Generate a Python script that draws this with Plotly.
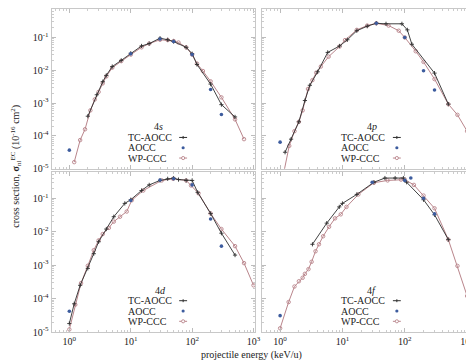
import plotly.graph_objects as go

# ---------------- data (energies in keV/u, cross sections in 1e-16 cm^2) ----------------
# 4s
wp_4s_E = [1.2, 1.5, 1.8, 2.2, 2.6, 3, 3.5, 4, 5, 7, 10, 15, 20, 30, 40, 50, 60, 80, 100, 120, 150, 200, 300, 500, 700]
wp_4s = [1.6e-5, 7.5e-5, 1.6e-4, 6e-4, 1.3e-3, 2.2e-3, 4e-3, 6.5e-3, 1.2e-2, 1.9e-2, 3.0e-2, 5.0e-2,
         6.5e-2, 8.5e-2, 8.3e-2, 7.8e-2, 7.0e-2, 5.0e-2, 3.0e-2, 1.6e-2, 9.5e-3, 4.6e-3, 1.5e-3, 3.2e-4, 8e-5]
tc_4s_E = [2, 2.8, 3.5, 4, 5, 7, 10, 15, 20, 30, 40, 50, 80, 100, 120, 200, 300, 500]
tc_4s = [4e-4, 1.8e-3, 4.5e-3, 7e-3, 1.3e-2, 2.0e-2, 3.3e-2, 5.5e-2, 6.5e-2, 9.5e-2, 8.5e-2, 7.5e-2,
         5.0e-2, 3.2e-2, 1.5e-2, 3.8e-3, 9e-4, 3.8e-4]
ao_4s_E = [1, 10, 30, 50, 100, 200, 300]
ao_4s = [3.7e-5, 3.2e-2, 9e-2, 7.5e-2, 3.0e-2, 2.6e-3, 4.5e-4]

# 4p
wp_4p_E = [1.15, 1.4, 1.7, 2, 2.3, 2.8, 3.3, 3.8, 4.5, 6, 9, 11, 17, 25, 35, 55, 80, 100, 150, 200, 300, 500, 700, 1000]
wp_4p = [8e-6, 5e-5, 1.4e-4, 2.7e-4, 6e-4, 2.7e-3, 5e-3, 8.5e-3, 1.3e-2, 2.6e-2, 5.3e-2, 8.3e-2,
         0.17, 0.23, 0.27, 0.23, 0.16, 0.10, 0.038, 0.018, 5.4e-3, 9.3e-4, 4.4e-4, 1.4e-4]
tc_4p_E = [1.2, 1.5, 2, 2.5, 3, 4, 5.8, 9, 12, 17, 25, 35, 50, 90, 110, 130, 300, 500]
tc_4p = [3.2e-5, 8e-5, 2.7e-4, 1.2e-3, 3.5e-3, 9e-3, 3.5e-2, 5.5e-2, 8.5e-2, 0.16, 0.22, 0.27,
         0.26, 0.26, 0.17, 0.062, 8.2e-3, 9.3e-4]
ao_4p_E = [1, 35, 100, 200, 300]
ao_4p = [6.5e-5, 0.27, 0.10, 0.0097, 2.5e-3]

# 4d
wp_4d_E = [1, 1.25, 1.55, 2, 2.5, 3, 3.5, 4.4, 5.3, 6.7, 8.6, 10.4, 16, 32, 49, 80, 96, 127, 200, 300, 500, 700, 1000]
wp_4d = [1.2e-5, 6.6e-5, 2.9e-4, 9.6e-4, 2.8e-3, 5.5e-3, 8.5e-3, 1.3e-2, 2.0e-2, 2.8e-2, 4.0e-2, 8.7e-2,
         0.17, 0.34, 0.38, 0.34, 0.24, 0.14, 0.035, 0.012, 3.7e-3, 1.15e-3, 2.5e-4]
tc_4d_E = [1, 1.2, 1.5, 2, 2.5, 3, 4, 5.3, 8, 10, 15, 20, 30, 40, 50, 60, 80, 100, 123, 200, 300, 500]
tc_4d = [1.8e-5, 7e-5, 2.5e-4, 8e-4, 2.2e-3, 5e-3, 1.2e-2, 2.8e-2, 7.0e-2, 9.0e-2, 0.17, 0.25,
         0.34, 0.38, 0.40, 0.36, 0.34, 0.34, 0.15, 0.035, 9e-3, 2e-3]
ao_4d_E = [1, 10, 30, 50, 100, 200, 300]
ao_4d = [4.2e-5, 8.5e-2, 0.35, 0.38, 0.25, 0.024, 3.7e-3]

# 4f
wp_4f_E = [1, 1.37, 1.7, 2, 2.3, 2.5, 2.85, 3.2, 3.7, 4.2, 4.9, 6.1, 7.6, 9.4, 11.6, 18, 32, 53, 87, 100,
           140, 200, 300, 500, 700, 1000]
wp_4f = [1.3e-5, 7.9e-5, 2.3e-4, 3.3e-4, 4.2e-4, 5.5e-4, 7.6e-4, 1.26e-3, 2.6e-3, 4.2e-3, 7.3e-3, 1.4e-2,
         2.5e-2, 3.3e-2, 5.5e-2, 0.13, 0.29, 0.34, 0.36, 0.36, 0.25, 0.12, 0.05, 5.8e-3, 9.5e-4, 1.2e-4]
tc_4f_E = [3.3, 5.6, 8.9, 10, 17, 32, 48, 70, 95, 107, 200, 300, 500]
tc_4f = [4.2e-3, 1.8e-2, 5.5e-2, 7.0e-2, 0.13, 0.30, 0.40, 0.40, 0.40, 0.30, 0.09, 0.032, 5.8e-3]
ao_4f_E = [1, 30, 100, 125, 200, 300]
ao_4f = [3.1e-5, 0.30, 0.34, 0.40, 0.10, 0.034]

panel_titles = ['4<i>s</i>', '4<i>p</i>', '4<i>d</i>', '4<i>f</i>']
series_names = ['TC-AOCC', 'AOCC', 'WP-CCC']
x_tickvals = [1, 10, 100, 1000]
x_ticktext = ['10<sup>0</sup>', '10<sup>1</sup>', '10<sup>2</sup>', '10<sup>3</sup>']
y_tickvals = [1e-5, 1e-4, 1e-3, 1e-2, 1e-1]
y_ticktext = ['10<sup>-5</sup>', '10<sup>-4</sup>', '10<sup>-3</sup>', '10<sup>-2</sup>', '10<sup>-1</sup>']

# ---------------- styling ----------------
W, H = 474, 360
def X(px): return px / W
def Y(py): return 1 - py / H

C_TC = '#2e2e2e'
C_AO = '#3d5c9e'
C_WP = '#b9858b'
FONT = 'Liberation Serif'
FS = 10

fig = go.Figure()

panels = [
    ('x', 'y', (wp_4s_E, wp_4s), (tc_4s_E, tc_4s), (ao_4s_E, ao_4s)),
    ('x2', 'y2', (wp_4p_E, wp_4p), (tc_4p_E, tc_4p), (ao_4p_E, ao_4p)),
    ('x3', 'y3', (wp_4d_E, wp_4d), (tc_4d_E, tc_4d), (ao_4d_E, ao_4d)),
    ('x4', 'y4', (wp_4f_E, wp_4f), (tc_4f_E, tc_4f), (ao_4f_E, ao_4f)),
]

for xa, ya, wp, tc, ao in panels:
    fig.add_trace(go.Scatter(x=wp[0], y=wp[1], xaxis=xa, yaxis=ya, mode='lines+markers',
                             name='WP-CCC', showlegend=False,
                             line=dict(color=C_WP, width=1),
                             marker=dict(symbol='circle-open', size=3.5, color=C_WP, line=dict(width=0.9))))
    fig.add_trace(go.Scatter(x=tc[0], y=tc[1], xaxis=xa, yaxis=ya, mode='lines+markers',
                             name='TC-AOCC', showlegend=False,
                             line=dict(color=C_TC, width=0.9),
                             marker=dict(symbol='cross-thin', size=3, color=C_TC, line=dict(width=0.9, color=C_TC))))
    fig.add_trace(go.Scatter(x=ao[0], y=ao[1], xaxis=xa, yaxis=ya, mode='markers',
                             name='AOCC', showlegend=False,
                             marker=dict(symbol='circle', size=3.6, color=C_AO)))

minor_x = [k * 10 ** n for n in range(-1, 4) for k in range(2, 10)]
minor_y = [k * 10.0 ** n for n in range(-6, 0) for k in range(2, 10)]

def xax(dom, rng, anchor, labels):
    return dict(type='log', domain=dom, range=rng, anchor=anchor,
                showline=True, linecolor='#c8c8c8', linewidth=1, mirror='ticks',
                ticks='inside', ticklen=4, tickcolor='#bcbcbc',
                tickmode='array', tickvals=x_tickvals, ticktext=x_ticktext,
                showticklabels=labels, showgrid=False, zeroline=False,
                tickfont=dict(family=FONT, size=FS, color='#222'),
                minor=dict(ticks='inside', ticklen=2, tickcolor='#cccccc', tickvals=minor_x, showgrid=False))

def yax(dom, rng, anchor, labels):
    return dict(type='log', domain=dom, range=rng, anchor=anchor,
                showline=True, linecolor='#c8c8c8', linewidth=1, mirror='ticks',
                ticks='inside', ticklen=4, tickcolor='#bcbcbc',
                tickmode='array', tickvals=y_tickvals, ticktext=y_ticktext,
                showticklabels=labels, showgrid=False, zeroline=False,
                tickfont=dict(family=FONT, size=FS, color='#222'),
                minor=dict(ticks='inside', ticklen=2, tickcolor='#cccccc', tickvals=minor_y, showgrid=False))

xl = [X(44), X(250)]
xr = [X(257), X(472)]
yt = [Y(163), Y(0)]
yb = [Y(329.5), Y(166)]
rl = [-0.29, 3.03]
rr = [-0.286, 3.127]
rt = [-5, -0.134]
rb = [-5, -0.21]

fig.update_layout(
    width=W, height=H, margin=dict(l=0, r=0, t=0, b=0),
    paper_bgcolor='white', plot_bgcolor='white', showlegend=False,
    font=dict(family=FONT, size=FS, color='#222'),
    xaxis=xax(xl, rl, 'y', False), yaxis=yax(yt, rt, 'x', True),
    xaxis2=xax(xr, rr, 'y2', False), yaxis2=yax(yt, rt, 'x2', False),
    xaxis3=xax(xl, rl, 'y3', True), yaxis3=yax(yb, rb, 'x3', True),
    xaxis4=xax(xr, rr, 'y4', True), yaxis4=yax(yb, rb, 'x4', False),
)

annotations = []
shapes = []

# legends (title position, text left edge, row y positions, sample x)
legend_specs = [
    (152, 120, 120, [131, 141.5, 152], 177),
    (368, 120, 336, [131, 141.5, 152], 393),
    (154, 287, 120, [297.5, 308, 318.5], 177),
    (367, 287, 336, [297.5, 308, 318.5], 393),
]
for title, (tx, ty, lx, rows, mx) in zip(panel_titles, legend_specs):
    annotations.append(dict(x=X(tx), y=Y(ty), xref='paper', yref='paper', text=title, showarrow=False,
                            xanchor='center', yanchor='middle', borderpad=0,
                            font=dict(family=FONT, size=FS)))
    for name, ry in zip(series_names, rows):
        annotations.append(dict(x=X(lx), y=Y(ry), xref='paper', yref='paper', text=name, showarrow=False,
                                xanchor='left', yanchor='middle', borderpad=0,
                                font=dict(family=FONT, size=FS)))
    # TC-AOCC sample
    ry = rows[0]
    shapes.append(dict(type='line', xref='paper', yref='paper', x0=X(mx - 4), x1=X(mx + 4), y0=Y(ry), y1=Y(ry),
                       line=dict(color=C_TC, width=1)))
    shapes.append(dict(type='line', xref='paper', yref='paper', x0=X(mx), x1=X(mx), y0=Y(ry - 1.5), y1=Y(ry + 1.5),
                       line=dict(color=C_TC, width=1)))
    # AOCC sample
    ry = rows[1]
    shapes.append(dict(type='circle', xref='paper', yref='paper', x0=X(mx - 1.6), x1=X(mx + 1.6),
                       y0=Y(ry - 1.6), y1=Y(ry + 1.6), fillcolor=C_AO, line=dict(width=0)))
    # WP-CCC sample
    ry = rows[2]
    shapes.append(dict(type='line', xref='paper', yref='paper', x0=X(mx - 4), x1=X(mx + 4), y0=Y(ry), y1=Y(ry),
                       line=dict(color=C_WP, width=1)))
    shapes.append(dict(type='circle', xref='paper', yref='paper', x0=X(mx - 1.6), x1=X(mx + 1.6),
                       y0=Y(ry - 1.6), y1=Y(ry + 1.6), fillcolor='white', line=dict(color=C_WP, width=0.9)))

annotations.append(dict(x=X(246), y=Y(353), xref='paper', yref='paper', text='projectile energy (keV/u)',
                        showarrow=False, xanchor='center', yanchor='middle', font=dict(family=FONT, size=FS)))
annotations.append(dict(x=X(8), y=Y(160), xref='paper', yref='paper', textangle=-90,
                        text='cross section, <b>σ</b><sub>nl</sub><sup>EC</sup> (10<sup>-16</sup> cm<sup>2</sup>)',
                        showarrow=False, xanchor='center', yanchor='middle', font=dict(family=FONT, size=FS)))

fig.update_layout(annotations=annotations, shapes=shapes)
fig.write_html('out.html')
